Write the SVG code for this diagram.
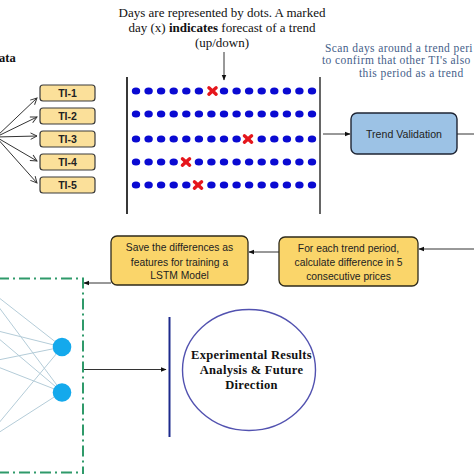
<svg xmlns="http://www.w3.org/2000/svg" xmlns:xlink="http://www.w3.org/1999/xlink" width="474" height="474" viewBox="0 0 474 474">
<style>
.serif{font-family:"Liberation Serif","Times New Roman",serif;fill:#111}
.sans{font-family:"Liberation Sans",Arial,sans-serif;fill:#222}
.ti{fill:#fbe09a;stroke:#3a3a3a;stroke-width:1.2}
.ybox{fill:#fad56a;stroke:#2e2a1a;stroke-width:1.3}
.dot{fill:#0a0ad2}
.wire{stroke:#333;stroke-width:1;fill:none}
.nn{stroke:#b4ccd8;stroke-width:1;fill:none}
.xm{stroke:#e5161c;stroke-width:3.4;stroke-linecap:round}
</style>
<defs>
<marker id="arr" viewBox="0 0 10 10" refX="9" refY="5" markerWidth="6" markerHeight="6" orient="auto-start-reverse">
<path d="M0,1 L10,5 L0,9 z" fill="#111"/>
</marker>
<marker id="vee" viewBox="0 0 10 10" refX="9" refY="5" markerWidth="8" markerHeight="8" orient="auto">
<path d="M1,1 L9,5 L1,9" fill="none" stroke="#333" stroke-width="1.2"/>
</marker>
<g id="x"><line class="xm" x1="-3.6" y1="-3.2" x2="3.6" y2="3.2"/><line class="xm" x1="-3.6" y1="3.2" x2="3.6" y2="-3.2"/></g>
</defs>
<rect width="474" height="474" fill="#fff"/>

<text class="serif" x="-1" y="62" font-size="12.5" font-weight="bold">ata</text>

<g id="caption-days" class="serif" font-size="13" text-anchor="middle">
<text x="222" y="17">Days are represented by dots. A marked</text>
<text x="222" y="32">day (x) <tspan font-weight="bold">indicates</tspan> forecast of a trend</text>
<text x="222" y="46.5">(up/down)</text>
</g>

<g id="caption-scan" font-family="Liberation Serif,Times New Roman,serif" font-size="11.5" fill="#45608a" letter-spacing="0.4">
<text x="325" y="51.5">Scan days around a trend peri</text>
<text x="322" y="64">to confirm that other TI's also</text>
<text x="359" y="76.5">this period as a trend</text>
</g>

<g id="connectors">
<line class="wire" x1="-4" y1="137" x2="37" y2="98" marker-end="url(#vee)"/>
<line class="wire" x1="-4" y1="137" x2="37" y2="117" marker-end="url(#vee)"/>
<line class="wire" x1="-4" y1="137" x2="37" y2="136" marker-end="url(#vee)"/>
<line class="wire" x1="-4" y1="137" x2="37" y2="161" marker-end="url(#vee)"/>
<line class="wire" x1="-4" y1="137" x2="37" y2="183" marker-end="url(#vee)"/>
<line class="wire" x1="224" y1="52" x2="224" y2="80" marker-end="url(#arr)"/>
<line class="wire" stroke="#666" x1="323" y1="134" x2="350" y2="134" marker-end="url(#arr)"/>
<line class="wire" stroke="#777" x1="457" y1="134" x2="474" y2="134"/>
<line class="wire" stroke="#777" x1="474" y1="249" x2="419" y2="249" marker-end="url(#arr)"/>
<line class="wire" stroke="#777" x1="279" y1="252" x2="249" y2="252" marker-end="url(#arr)"/>
<line class="wire" stroke="#555" x1="111" y1="283" x2="84" y2="283" marker-end="url(#arr)"/>
<line class="wire" stroke="#888" x1="84" y1="369.5" x2="166" y2="369.5" marker-end="url(#arr)"/>
</g>

<g id="ti-1"><rect class="ti" x="40" y="85" width="55" height="16" rx="3"/><text class="sans" x="67.5" y="97" font-size="10.5" font-weight="bold" text-anchor="middle">TI-1</text></g>
<g id="ti-2"><rect class="ti" x="40" y="108" width="55" height="16" rx="3"/><text class="sans" x="67.5" y="120" font-size="10.5" font-weight="bold" text-anchor="middle">TI-2</text></g>
<g id="ti-3"><rect class="ti" x="40" y="131" width="55" height="16" rx="3"/><text class="sans" x="67.5" y="143" font-size="10.5" font-weight="bold" text-anchor="middle">TI-3</text></g>
<g id="ti-4"><rect class="ti" x="40" y="154" width="55" height="16" rx="3"/><text class="sans" x="67.5" y="166" font-size="10.5" font-weight="bold" text-anchor="middle">TI-4</text></g>
<g id="ti-5"><rect class="ti" x="40" y="177" width="55" height="16" rx="3"/><text class="sans" x="67.5" y="189" font-size="10.5" font-weight="bold" text-anchor="middle">TI-5</text></g>

<g id="days-grid">
<line x1="127" y1="77" x2="127" y2="214" stroke="#222" stroke-width="1.8"/>
<line x1="320" y1="77" x2="320" y2="214" stroke="#555" stroke-width="1.8"/>
<g class="dot">
<ellipse cx="136" cy="91" rx="4.2" ry="3.6"/><ellipse cx="148.6" cy="91" rx="4.2" ry="3.6"/><ellipse cx="161.1" cy="91" rx="4.2" ry="3.6"/><ellipse cx="173.7" cy="91" rx="4.2" ry="3.6"/><ellipse cx="186.3" cy="91" rx="4.2" ry="3.6"/><ellipse cx="198.9" cy="91" rx="4.2" ry="3.6"/><ellipse cx="224" cy="91" rx="4.2" ry="3.6"/><ellipse cx="236.6" cy="91" rx="4.2" ry="3.6"/><ellipse cx="249.1" cy="91" rx="4.2" ry="3.6"/><ellipse cx="261.7" cy="91" rx="4.2" ry="3.6"/><ellipse cx="274.3" cy="91" rx="4.2" ry="3.6"/><ellipse cx="286.9" cy="91" rx="4.2" ry="3.6"/><ellipse cx="299.4" cy="91" rx="4.2" ry="3.6"/><ellipse cx="312" cy="91" rx="4.2" ry="3.6"/>
<ellipse cx="136" cy="114" rx="4.2" ry="3.6"/><ellipse cx="148.6" cy="114" rx="4.2" ry="3.6"/><ellipse cx="161.1" cy="114" rx="4.2" ry="3.6"/><ellipse cx="173.7" cy="114" rx="4.2" ry="3.6"/><ellipse cx="186.3" cy="114" rx="4.2" ry="3.6"/><ellipse cx="198.9" cy="114" rx="4.2" ry="3.6"/><ellipse cx="211.4" cy="114" rx="4.2" ry="3.6"/><ellipse cx="224" cy="114" rx="4.2" ry="3.6"/><ellipse cx="236.6" cy="114" rx="4.2" ry="3.6"/><ellipse cx="249.1" cy="114" rx="4.2" ry="3.6"/><ellipse cx="261.7" cy="114" rx="4.2" ry="3.6"/><ellipse cx="274.3" cy="114" rx="4.2" ry="3.6"/><ellipse cx="286.9" cy="114" rx="4.2" ry="3.6"/><ellipse cx="299.4" cy="114" rx="4.2" ry="3.6"/><ellipse cx="312" cy="114" rx="4.2" ry="3.6"/>
<ellipse cx="136" cy="139" rx="4.2" ry="3.6"/><ellipse cx="148.6" cy="139" rx="4.2" ry="3.6"/><ellipse cx="161.1" cy="139" rx="4.2" ry="3.6"/><ellipse cx="173.7" cy="139" rx="4.2" ry="3.6"/><ellipse cx="186.3" cy="139" rx="4.2" ry="3.6"/><ellipse cx="198.9" cy="139" rx="4.2" ry="3.6"/><ellipse cx="211.4" cy="139" rx="4.2" ry="3.6"/><ellipse cx="224" cy="139" rx="4.2" ry="3.6"/><ellipse cx="236.6" cy="139" rx="4.2" ry="3.6"/><ellipse cx="261.7" cy="139" rx="4.2" ry="3.6"/><ellipse cx="274.3" cy="139" rx="4.2" ry="3.6"/><ellipse cx="286.9" cy="139" rx="4.2" ry="3.6"/><ellipse cx="299.4" cy="139" rx="4.2" ry="3.6"/><ellipse cx="312" cy="139" rx="4.2" ry="3.6"/>
<ellipse cx="136" cy="162" rx="4.2" ry="3.6"/><ellipse cx="148.6" cy="162" rx="4.2" ry="3.6"/><ellipse cx="161.1" cy="162" rx="4.2" ry="3.6"/><ellipse cx="173.7" cy="162" rx="4.2" ry="3.6"/><ellipse cx="198.9" cy="162" rx="4.2" ry="3.6"/><ellipse cx="211.4" cy="162" rx="4.2" ry="3.6"/><ellipse cx="224" cy="162" rx="4.2" ry="3.6"/><ellipse cx="236.6" cy="162" rx="4.2" ry="3.6"/><ellipse cx="249.1" cy="162" rx="4.2" ry="3.6"/><ellipse cx="261.7" cy="162" rx="4.2" ry="3.6"/><ellipse cx="274.3" cy="162" rx="4.2" ry="3.6"/><ellipse cx="286.9" cy="162" rx="4.2" ry="3.6"/><ellipse cx="299.4" cy="162" rx="4.2" ry="3.6"/><ellipse cx="312" cy="162" rx="4.2" ry="3.6"/>
<ellipse cx="136" cy="185" rx="4.2" ry="3.6"/><ellipse cx="148.6" cy="185" rx="4.2" ry="3.6"/><ellipse cx="161.1" cy="185" rx="4.2" ry="3.6"/><ellipse cx="173.7" cy="185" rx="4.2" ry="3.6"/><ellipse cx="186.3" cy="185" rx="4.2" ry="3.6"/><ellipse cx="211.4" cy="185" rx="4.2" ry="3.6"/><ellipse cx="224" cy="185" rx="4.2" ry="3.6"/><ellipse cx="236.6" cy="185" rx="4.2" ry="3.6"/><ellipse cx="249.1" cy="185" rx="4.2" ry="3.6"/><ellipse cx="261.7" cy="185" rx="4.2" ry="3.6"/><ellipse cx="274.3" cy="185" rx="4.2" ry="3.6"/><ellipse cx="286.9" cy="185" rx="4.2" ry="3.6"/><ellipse cx="299.4" cy="185" rx="4.2" ry="3.6"/><ellipse cx="312" cy="185" rx="4.2" ry="3.6"/>
</g>
<use xlink:href="#x" href="#x" x="212.5" y="91"/>
<use xlink:href="#x" href="#x" x="248" y="139"/>
<use xlink:href="#x" href="#x" x="186" y="162"/>
<use xlink:href="#x" href="#x" x="198" y="185"/>
</g>

<g id="trend-validation">
<rect x="351" y="113" width="106" height="41" rx="6" fill="#9cc2e5" stroke="#1e2433" stroke-width="1.4"/>
<text class="sans" x="404" y="137.5" font-size="10.6" text-anchor="middle" fill="#1b2538">Trend Validation</text>
</g>

<g id="for-each">
<rect class="ybox" x="279" y="237" width="139" height="49" rx="6"/>
<g class="sans" font-size="10.3" text-anchor="middle">
<text x="348.5" y="251.5">For each trend period,</text>
<text x="348.5" y="266">calculate difference in 5</text>
<text x="348.5" y="279.5">consecutive prices</text>
</g>
</g>

<g id="save">
<rect class="ybox" x="111" y="236" width="137" height="49" rx="6"/>
<g class="sans" font-size="10.3" text-anchor="middle">
<text x="179.5" y="251">Save the differences as</text>
<text x="179.5" y="265.5">features for training a</text>
<text x="179.5" y="279">LSTM Model</text>
</g>
</g>

<g id="lstm">
<path d="M-2,278.5 H83 V474" fill="none" stroke="#2f9a6a" stroke-width="2" stroke-dasharray="11,4,2,4"/>
<line x1="-2" y1="472.5" x2="83" y2="472.5" stroke="#2f9a6a" stroke-width="2" stroke-dasharray="11,4,2,4"/>
<g class="nn">
<line x1="-2" y1="297" x2="62" y2="347"/>
<line x1="-2" y1="306" x2="62" y2="392"/>
<line x1="-2" y1="331" x2="62" y2="347"/>
<line x1="-2" y1="338" x2="62" y2="392"/>
<line x1="-2" y1="360" x2="62" y2="347"/>
<line x1="-2" y1="367" x2="62" y2="392"/>
<line x1="-2" y1="424" x2="62" y2="347"/>
<line x1="-2" y1="433" x2="62" y2="392"/>
</g>
<circle cx="62" cy="347" r="9.3" fill="#14a9ec"/>
<circle cx="62" cy="392.5" r="9.3" fill="#14a9ec"/>
</g>

<line x1="169.5" y1="317" x2="169.5" y2="437" stroke="#1d2a8c" stroke-width="2"/>

<g id="results">
<ellipse cx="249" cy="370" rx="66.5" ry="60.5" fill="#fff" stroke="#5252b0" stroke-width="1.4"/>
<g class="serif" font-size="12.5" font-weight="bold" text-anchor="middle" letter-spacing="0.3">
<text x="251.5" y="359">Experimental Results</text>
<text x="251.5" y="374">Analysis &amp; Future</text>
<text x="251.5" y="388.5">Direction</text>
</g>
</g>
</svg>
